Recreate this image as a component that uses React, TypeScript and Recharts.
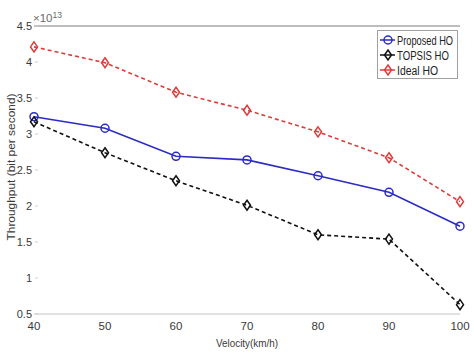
import { LineChart, Line, XAxis, YAxis, ReferenceLine } from "recharts";

const velocities = [40, 50, 60, 70, 80, 90, 100];
const proposedHO = [3.24, 3.08, 2.69, 2.64, 2.42, 2.19, 1.72];
const topsisHO = [3.17, 2.74, 2.35, 2.01, 1.6, 1.54, 0.63];
const idealHO = [4.21, 3.99, 3.58, 3.33, 3.03, 2.67, 2.06];
const yTicks = [0.5, 1, 1.5, 2, 2.5, 3, 3.5, 4, 4.5];

const data = velocities.map((v, i) => ({
  v,
  proposed: proposedHO[i],
  topsis: topsisHO[i],
  ideal: idealHO[i],
}));

const FONT = "'Liberation Sans', Arial, sans-serif";
const TEXT = "#3a3a3a";

// legend text widths in the original are condensed
const series = [
  { key: "proposed", name: "Proposed HO", w: 56, color: "#2b2bc6", dash: undefined, shape: "circle" },
  { key: "topsis", name: "TOPSIS HO", w: 52, color: "#111111", dash: "4 3", shape: "diamond" },
  { key: "ideal", name: "Ideal HO", w: 41, color: "#df3b3b", dash: "4 3", shape: "diamond" },
];

function Marker({ cx, cy, color, shape }: any) {
  if (cx == null || cy == null) return null;
  if (shape === "circle") {
    return <circle cx={cx} cy={cy} r={4} fill="none" stroke={color} strokeWidth={1.5} />;
  }
  return (
    <path
      d={`M${cx},${cy - 5} L${cx + 3.5},${cy} L${cx},${cy + 5} L${cx - 3.5},${cy} Z`}
      fill="none"
      stroke={color}
      strokeWidth={1.5}
    />
  );
}

function LeftTick({ x, y, payload }: any) {
  return (
    <g>
      <text x={x - 2} y={y} dy={4} textAnchor="end" fontSize={11} fontFamily={FONT} fill={TEXT}>
        {payload.value}
      </text>
      <line x1={x + 1} x2={x + 4} y1={y} y2={y} stroke="#cfcfcf" />
    </g>
  );
}

function RightTick({ x, y }: any) {
  return <line x1={x - 5} x2={x - 1} y1={y} y2={y} stroke="#cfcfcf" />;
}

function BottomTick({ x, y, payload }: any) {
  return (
    <text x={x} y={y} dy={8} textAnchor="middle" fontSize={11.5} fontFamily={FONT} fill={TEXT}>
      {payload.value}
    </text>
  );
}

function YLabel({ viewBox }: any) {
  const cy = viewBox.y + viewBox.height / 2 - 3;
  return (
    <text
      x={11}
      y={cy}
      transform={`rotate(-90, 11, ${cy})`}
      textAnchor="middle"
      dominantBaseline="central"
      fontSize={11}
      fontFamily={FONT}
      fill={TEXT}
      textLength={147}
      lengthAdjust="spacingAndGlyphs"
    >
      Throughput (bit per second)
    </text>
  );
}

function XLabel({ viewBox }: any) {
  const cx = viewBox.x + viewBox.width / 2;
  return (
    <text
      x={cx}
      y={347}
      textAnchor="middle"
      fontSize={11.5}
      fontFamily={FONT}
      fill={TEXT}
      textLength={62}
      lengthAdjust="spacingAndGlyphs"
    >
      Velocity(km/h)
    </text>
  );
}

function LegendBox() {
  return (
    <svg width={92} height={52} style={{ position: "absolute", left: 377, top: 30 }}>
      <rect x={0.5} y={0.5} width={80} height={48} fill="white" stroke="#a0a0a0" />
      {series.map((s, i) => {
        const cy = 10 + i * 15;
        return (
          <g key={s.key}>
            <line x1={3} x2={18} y1={cy} y2={cy} stroke={s.color} strokeWidth={1.5} />
            <Marker cx={11} cy={cy} color={s.color} shape={s.shape} />
            <text
              x={20}
              y={cy + 4.5}
              fontSize={12}
              fontFamily={FONT}
              fill="#222"
              textLength={s.w}
              lengthAdjust="spacingAndGlyphs"
            >
              {s.name}
            </text>
          </g>
        );
      })}
    </svg>
  );
}

export default function App() {
  return (
    <div style={{ position: "absolute", left: 0, top: 0, width: 474, height: 354, background: "white" }}>
      <LineChart width={474} height={354} data={data} margin={{ top: 26, right: 14, bottom: 0, left: 0 }}>
        <XAxis
          dataKey="v"
          type="number"
          domain={[40, 100]}
          ticks={velocities}
          axisLine={{ stroke: "#e2e2e2", strokeWidth: 2 }}
          tickLine={false}
          height={40}
          tick={<BottomTick />}
          label={<XLabel />}
        />
        <YAxis
          yAxisId="left"
          type="number"
          domain={[0.5, 4.5]}
          ticks={yTicks}
          width={34}
          axisLine={false}
          tickLine={false}
          tickSize={0}
          tickMargin={0}
          tick={<LeftTick />}
          label={<YLabel />}
        />
        <YAxis
          yAxisId="right"
          orientation="right"
          type="number"
          domain={[0.5, 4.5]}
          ticks={yTicks}
          width={0}
          axisLine={false}
          tickLine={false}
          tickSize={0}
          tickMargin={0}
          tick={<RightTick />}
        />
        <ReferenceLine yAxisId="left" y={4.5} stroke="#a8a8a8" strokeWidth={1.5} />
        {series.map((s) => (
          <Line
            key={s.key}
            yAxisId="left"
            dataKey={s.key}
            name={s.name}
            stroke={s.color}
            strokeWidth={1.6}
            strokeDasharray={s.dash}
            isAnimationActive={false}
            dot={(p: any) => <Marker key={p.index} cx={p.cx} cy={p.cy} color={s.color} shape={s.shape} />}
            activeDot={false}
          />
        ))}
      </LineChart>
      <LegendBox />
      <div
        style={{
          position: "absolute",
          left: 33,
          top: 12,
          fontFamily: FONT,
          fontSize: 11.5,
          lineHeight: "13px",
          color: "#6a6a6a",
        }}
      >
        ×10<sup style={{ fontSize: 8.5, verticalAlign: "top", position: "relative", top: -3 }}>13</sup>
      </div>
    </div>
  );
}
